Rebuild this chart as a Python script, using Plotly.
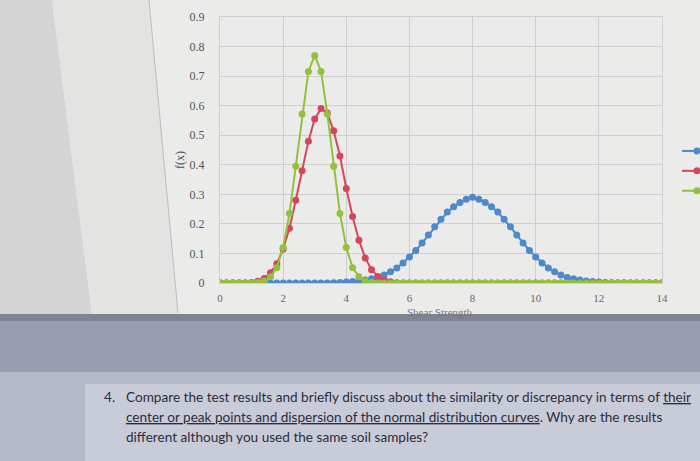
import plotly.graph_objects as go

# ---------------- data ----------------
x_vals = [0.0, 0.2, 0.4, 0.6, 0.8, 1.0, 1.2, 1.4, 1.6, 1.8,
          2.0, 2.2, 2.4, 2.6, 2.8, 3.0, 3.2, 3.4, 3.6, 3.8,
          4.0, 4.2, 4.4, 4.6, 4.8, 5.0, 5.2, 5.4, 5.6, 5.8,
          6.0, 6.2, 6.4, 6.6, 6.8, 7.0, 7.2, 7.4, 7.6, 7.8,
          8.0, 8.2, 8.4, 8.6, 8.8, 9.0, 9.2, 9.4, 9.6, 9.8,
          10.0, 10.2, 10.4, 10.6, 10.8, 11.0, 11.2, 11.4, 11.6, 11.8,
          12.0, 12.2, 12.4, 12.6, 12.8, 13.0, 13.2, 13.4, 13.6, 13.8,
          14.0]

blue_vals = [0, 0, 0, 0, 0, 0, 0, 0, 0, 0,
             0, 0, 0, 0, 0, 0, 0, 0, 0.001, 0.002,
             0.003, 0.005, 0.007, 0.010, 0.014, 0.019, 0.027, 0.038, 0.051, 0.068,
             0.088, 0.110, 0.135, 0.162, 0.190, 0.216, 0.240, 0.258, 0.272, 0.283,
             0.290, 0.283, 0.272, 0.258, 0.240, 0.216, 0.190, 0.162, 0.135, 0.110,
             0.088, 0.068, 0.051, 0.038, 0.027, 0.019, 0.014, 0.010, 0.007, 0.005,
             0.003, 0.002, 0.001, 0, 0, 0, 0, 0, 0, 0,
             0]

red_vals = [0, 0, 0, 0, 0, 0.002, 0.006, 0.015, 0.035, 0.065,
            0.115, 0.185, 0.280, 0.380, 0.480, 0.555, 0.590, 0.575, 0.515, 0.430,
            0.320, 0.225, 0.145, 0.085, 0.045, 0.022, 0.010, 0.004, 0.001, 0,
            0, 0, 0, 0, 0, 0, 0, 0, 0, 0,
            0, 0, 0, 0, 0, 0, 0, 0, 0, 0,
            0, 0, 0, 0, 0, 0, 0, 0, 0, 0,
            0, 0, 0, 0, 0, 0, 0, 0, 0, 0,
            0]

green_vals = [0, 0, 0, 0, 0, 0, 0.002, 0.007, 0.021, 0.052,
              0.120, 0.235, 0.395, 0.572, 0.716, 0.770, 0.716, 0.572, 0.395, 0.235,
              0.120, 0.052, 0.021, 0.007, 0.002, 0, 0, 0, 0, 0,
              0, 0, 0, 0, 0, 0, 0, 0, 0, 0,
              0, 0, 0, 0, 0, 0, 0, 0, 0, 0,
              0, 0, 0, 0, 0, 0, 0, 0, 0, 0,
              0, 0, 0, 0, 0, 0, 0, 0, 0, 0,
              0]

series_names = ["Test 1", "Test 2", "Test 3"]
x_tick_vals = [0, 2, 4, 6, 8, 10, 12, 14]
y_tick_vals = [0, 0.1, 0.2, 0.3, 0.4, 0.5, 0.6, 0.7, 0.8, 0.9]
y_tick_text = ["0", "0.1", "0.2", "0.3", "0.4", "0.5", "0.6", "0.7", "0.8", "0.9"]
x_title = "Shear Strength"
y_title = "f(x)"
question_num = "4."
question_lines = [
    "Compare the test results and briefly discuss about the similarity or discrepancy in terms of <u>their</u>",
    "<u>center or peak points and dispersion of the normal distribution curves</u>. Why are the results",
    "different although you used the same soil samples?",
]

# ---------------- geometry ----------------
W, H = 700, 461
L, R, T, B = 220, 38, 17, 178
PW, PH = W - L - R, H - T - B


def px(x):
    return (x - L) / PW


def py(y):
    return 1 - (y - T) / PH


colors = ["#4d89cc", "#d3475b", "#93c13d"]

fig = go.Figure()
for name, vals, c in zip(series_names, [blue_vals, red_vals, green_vals], colors):
    fig.add_trace(go.Scatter(
        x=x_vals, y=vals, name=name, mode="lines+markers",
        line=dict(color=c, width=2),
        marker=dict(color=c, size=7),
    ))

shapes = [
    dict(type="rect", xref="paper", yref="paper", x0=px(0), x1=px(W), y0=py(0), y1=py(315),
         fillcolor="#ebebea", line=dict(width=0), layer="below"),
    dict(type="path", xref="paper", yref="paper",
         path=f"M {px(0)} {py(0)} L {px(52)} {py(0)} L {px(92)} {py(315)} L {px(0)} {py(315)} Z",
         fillcolor="#d4d4d4", line=dict(width=0), layer="below"),
    dict(type="path", xref="paper", yref="paper",
         path=f"M {px(52)} {py(0)} L {px(149)} {py(0)} L {px(178)} {py(315)} L {px(92)} {py(315)} Z",
         fillcolor="#e3e3e2", line=dict(width=0), layer="below"),
    dict(type="line", xref="paper", yref="paper", x0=px(149), y0=py(0), x1=px(178), y1=py(313),
         line=dict(color="#bdbdbd", width=1), layer="below"),
    dict(type="rect", xref="paper", yref="paper", x0=px(0), x1=px(W), y0=py(314), y1=py(321),
         fillcolor="#7f8394", line=dict(width=0), layer="below"),
    dict(type="rect", xref="paper", yref="paper", x0=px(0), x1=px(W), y0=py(321), y1=py(372),
         fillcolor="#989db1", line=dict(width=0), layer="below"),
    dict(type="rect", xref="paper", yref="paper", x0=px(0), x1=px(W), y0=py(372), y1=py(H),
         fillcolor="#b4b8c8", line=dict(width=0), layer="below"),
    dict(type="rect", xref="paper", yref="paper", x0=px(85), x1=px(W), y0=py(384), y1=py(H),
         fillcolor="#c8cbd8", line=dict(width=0), layer="below"),
]

annotations = [
    dict(text=y_title, xref="paper", yref="paper", x=px(180), y=py(160), showarrow=False,
         xanchor="center", yanchor="middle",
         textangle=-90, font=dict(family="Liberation Serif", size=12, color="#555555")),
    dict(text=x_title, xref="paper", yref="paper", x=px(440), y=py(312), showarrow=False,
         xanchor="center", yanchor="middle",
         font=dict(family="Liberation Serif", size=11, color="#777777")),
    dict(text=question_num, xref="paper", yref="paper", x=px(102), y=py(397), showarrow=False,
         xanchor="left", yanchor="middle", font=dict(family="Lato", size=13.6, color="#2c2e3e")),
]
for i, line in enumerate(question_lines):
    annotations.append(dict(
        text=line, xref="paper", yref="paper", x=px(124), y=py(397 + 20 * i), showarrow=False,
        xanchor="left", yanchor="middle", font=dict(family="Lato", size=13.6, color="#2c2e3e")))

fig.update_layout(
    width=W, height=H,
    margin=dict(l=L, r=R, t=T, b=B, autoexpand=False),
    paper_bgcolor="#ebebea",
    plot_bgcolor="#f2f2f1",
    shapes=shapes,
    annotations=annotations,
    showlegend=True,
    legend=dict(x=px(677), y=py(136), xanchor="left", yanchor="top",
                bgcolor="rgba(0,0,0,0)", font=dict(size=13, color="#555555"),
                tracegroupgap=3),
    xaxis=dict(range=[0, 14], tickvals=x_tick_vals, showgrid=True, gridcolor="#cfcfcf",
               gridwidth=1, zeroline=False, showline=True, linecolor="#cfcfcf", mirror=True,
               ticks="outside", ticklen=5, tickcolor="rgba(0,0,0,0)",
               tickfont=dict(family="Liberation Serif", size=11, color="#666666")),
    yaxis=dict(range=[0, 0.9], tickvals=y_tick_vals, ticktext=y_tick_text, showgrid=True,
               gridcolor="#cfcfcf", gridwidth=1, zeroline=False, showline=True,
               linecolor="#cfcfcf", mirror=True, ticks="outside", ticklen=12,
               tickcolor="rgba(0,0,0,0)",
               tickfont=dict(family="Liberation Serif", size=12, color="#555555")),
)

fig.write_html("out.html", config={"displayModeBar": False},
               post_script="document.body.style.margin='0';document.body.style.overflow='hidden';")
